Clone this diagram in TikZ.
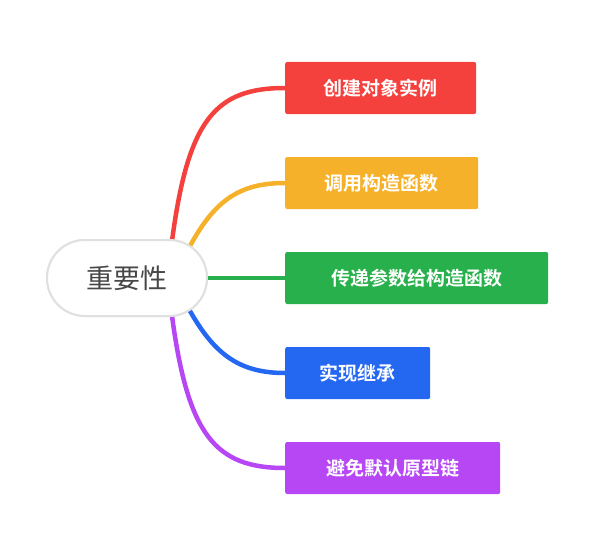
\documentclass[tikz,border=0pt]{standalone}
\usepackage{fontspec}
\newfontfamily\cjk{Noto Sans CJK SC}
\newfontfamily\cjkb{Noto Sans CJK SC Bold}
\definecolor{cred}{HTML}{F5413D}
\definecolor{corange}{HTML}{F6B12B}
\definecolor{cgreen}{HTML}{27B04B}
\definecolor{cblue}{HTML}{2468F2}
\definecolor{cpurple}{HTML}{B746F5}
\begin{document}
\begin{tikzpicture}[x=1pt,y=-1pt,
  leaf/.style={anchor=west,rounded corners=2pt,minimum height=52pt,text=white,font=\cjkb\fontsize{19}{19}\selectfont,inner xsep=22pt},
  link/.style={line width=4.5pt,line cap=round}]
\useasboundingbox (0,0) rectangle (610,551);
\node[draw=black!12,line width=2pt,fill=white,rounded corners=38pt,minimum width=160pt,minimum height=76pt,font=\cjk\fontsize{27}{27}\selectfont,text=black!72] (root) at (127,278) {重要性};
\node[leaf,fill=cred,minimum width=191pt] (a) at (285,88) {创建对象实例};
\node[leaf,fill=corange,minimum width=193pt] (b) at (285,183) {调用构造函数};
\node[leaf,fill=cgreen,minimum width=263pt] (c) at (285,278) {传递参数给构造函数};
\node[leaf,fill=cblue,minimum width=145pt] (d) at (285,373) {实现继承};
\node[leaf,fill=cpurple,minimum width=215pt] (e) at (285,468) {避免默认原型链};
\coordinate (sa) at (172,241);
\coordinate (sb) at (190,246);
\coordinate (sc) at (207,278);
\coordinate (sd) at (190,311);
\coordinate (se) at (172,316);
\begin{scope}[on background layer/.try]
\draw[link,cred] (sa) .. controls (188,120) and (215,88) .. (a.west);
\draw[link,corange] (sb) .. controls (215,200) and (240,183) .. (b.west);
\draw[link,cgreen] (sc) -- (c.west);
\draw[link,cblue] (sd) .. controls (215,355) and (240,373) .. (d.west);
\draw[link,cpurple] (se) .. controls (188,435) and (215,468) .. (e.west);
\end{scope}
\node[draw=black!12,line width=2pt,fill=white,rounded corners=38pt,minimum width=160pt,minimum height=76pt,font=\cjk\fontsize{27}{27}\selectfont,text=black!72] at (root) {重要性};
\end{tikzpicture}
\end{document}
